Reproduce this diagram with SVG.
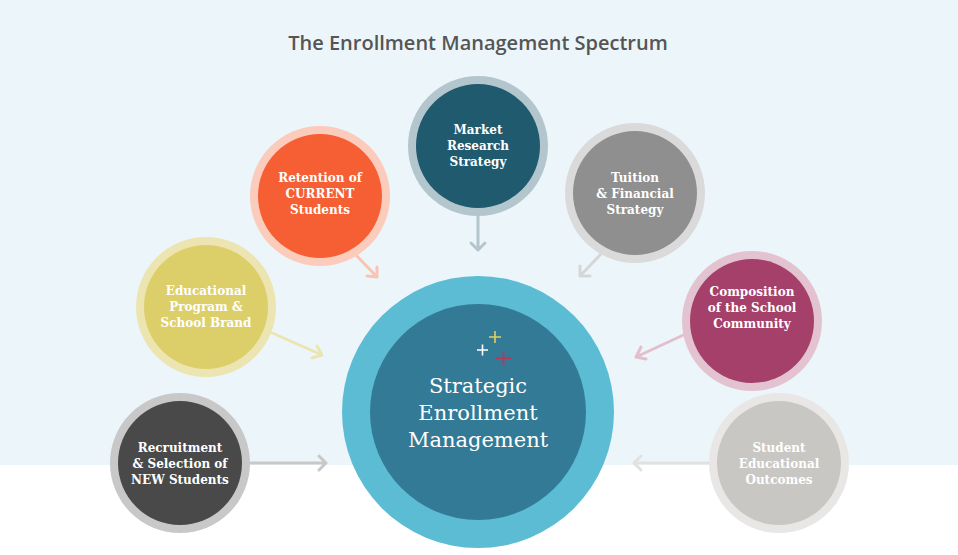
<svg xmlns="http://www.w3.org/2000/svg" width="958" height="555" viewBox="0 0 958 555">
<style>
.t{font-family:"DejaVu Serif","Liberation Serif",serif;font-size:12px;fill:#fff;text-anchor:middle;font-weight:bold}
.c{fill:none;stroke-width:3;stroke-linecap:round;stroke-linejoin:round}
</style>
<rect width="958" height="465" fill="#ecf6fa"/>
<rect y="465" width="958" height="90" fill="#fff"/>
<text x="478" y="50" text-anchor="middle" font-family="Open Sans,sans-serif" font-weight="600" font-size="20" fill="#555">The Enrollment Management Spectrum</text>
<g id="connectors">
<path class="c" stroke="#b4c6cd" d="M478 212V250M471 243L478 250L485 243"/>
<path class="c" stroke="#fbc4b2" d="M357 256L377 277M367 276L377 277L377 267"/>
<path class="c" stroke="#d6d6d6" d="M601 254L580 276M580 266L580 276L590 276"/>
<path class="c" stroke="#ece5b1" d="M270 332L322 355M312 358L322 355L317 346"/>
<path class="c" stroke="#e3bfcd" d="M692 331L636 357M641 347L636 357L646 359"/>
<path class="c" stroke="#c8c8c8" d="M248 463H326M319 456L326 463L319 470"/>
<path class="c" stroke="#e2e1df" d="M710 463H634M641 456L634 463L641 470"/>
</g>
<g id="center">
<circle cx="478" cy="412" r="136" fill="#5bbcd4"/>
<circle cx="478" cy="412" r="108" fill="#337a96"/>
<path d="M489 337h12M495 331v12" stroke="#e4cf5a" stroke-width="1.6"/>
<path d="M477 350h11M482.5 344.5v11" stroke="#fff" stroke-width="1.6"/>
<path d="M496 358h15M503.5 351v14" stroke="#b3395f" stroke-width="1.8"/>
<text font-family="DejaVu Serif,serif" font-size="21" fill="#fff" text-anchor="middle"><tspan x="478" y="393">Strategic</tspan><tspan x="478" y="420">Enrollment</tspan><tspan x="478" y="447">Management</tspan></text>
</g>
<g id="market"><circle cx="478" cy="146" r="70" fill="#b4c6cd"/><circle cx="478" cy="146" r="62" fill="#1f5a6e"/>
<text class="t"><tspan x="478" y="134">Market</tspan><tspan x="478" y="150">Research</tspan><tspan x="478" y="166">Strategy</tspan></text></g>
<g id="retention"><circle cx="320" cy="196" r="70" fill="#fbcbbb"/><circle cx="320" cy="196" r="62" fill="#f55f33"/>
<text class="t"><tspan x="320" y="182">Retention of</tspan><tspan x="320" y="198">CURRENT</tspan><tspan x="320" y="214">Students</tspan></text></g>
<g id="tuition"><circle cx="635" cy="193" r="70" fill="#dadada"/><circle cx="635" cy="193" r="62" fill="#8f8f8f"/>
<text class="t"><tspan x="635" y="182">Tuition</tspan><tspan x="635" y="198">&amp; Financial</tspan><tspan x="635" y="214">Strategy</tspan></text></g>
<g id="educational"><circle cx="206" cy="307" r="70" fill="#ece5b1"/><circle cx="206" cy="307" r="62" fill="#dccf6a"/>
<text class="t"><tspan x="206" y="295">Educational</tspan><tspan x="206" y="311">Program &amp;</tspan><tspan x="206" y="327">School Brand</tspan></text></g>
<g id="composition"><circle cx="752" cy="321" r="70" fill="#e3c3d0"/><circle cx="752" cy="321" r="62" fill="#a4406a"/>
<text class="t"><tspan x="752" y="296">Composition</tspan><tspan x="752" y="312">of the School</tspan><tspan x="752" y="328">Community</tspan></text></g>
<g id="recruitment"><circle cx="180" cy="463" r="70" fill="#c8c8c8"/><circle cx="180" cy="463" r="62" fill="#494949"/>
<text class="t"><tspan x="180" y="452">Recruitment</tspan><tspan x="180" y="468">&amp; Selection of</tspan><tspan x="180" y="484">NEW Students</tspan></text></g>
<g id="outcomes"><circle cx="779" cy="463" r="70" fill="#e8e7e5"/><circle cx="779" cy="463" r="62" fill="#c9c7c3"/>
<text class="t"><tspan x="779" y="452">Student</tspan><tspan x="779" y="468">Educational</tspan><tspan x="779" y="484">Outcomes</tspan></text></g>
</svg>
